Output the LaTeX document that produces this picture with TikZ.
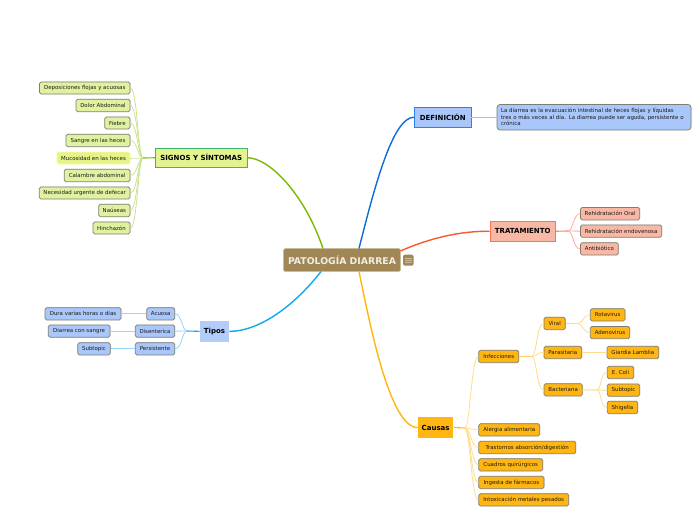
\documentclass[tikz,border=0pt]{standalone}
\usepackage{fontspec}
\setmainfont{DejaVu Sans}
\usetikzlibrary{shadows,calc}
\definecolor{cgreen}{HTML}{7FB800}\definecolor{lgreen}{HTML}{CAE38F}
\definecolor{cblue}{HTML}{0E6BDC}\definecolor{lblue}{HTML}{A0C4F5}
\definecolor{cred}{HTML}{F9592C}\definecolor{lred}{HTML}{FBAE97}
\definecolor{csky}{HTML}{0FA9EE}\definecolor{lsky}{HTML}{94D8F7}
\definecolor{cyel}{HTML}{FFB612}\definecolor{lyel}{HTML}{FFDB8A}
\definecolor{edgegray}{HTML}{7E7E70}
\definecolor{gfill}{HTML}{E0F2A0}\definecolor{bfill}{HTML}{A9C7FA}\definecolor{rfill}{HTML}{F9B8A5}
\definecolor{rootc}{HTML}{A08755}\definecolor{rootl}{HTML}{C9BC9A}
\definecolor{sedge}{HTML}{3DB56B}\definecolor{dedge}{HTML}{2F80E8}\definecolor{tedge}{HTML}{FA7650}
\tikzset{
 base/.style={inner sep=0pt,align=center,text=black},
 leaftext/.style={font=\fontsize{5.45}{6.6}\selectfont,text=black!90},
 leaf/.style={base,leaftext,rounded corners=1.6pt,draw=edgegray,line width=.7pt,
   drop shadow={opacity=.25,shadow xshift=.5pt,shadow yshift=.5pt}},
 gleaf/.style={leaf,fill=gfill},
 bleaf/.style={leaf,fill=bfill},
 rleaf/.style={leaf,fill=rfill},
 yleaf/.style={leaf,fill=cyel},
 topic/.style={base,font=\fontsize{7}{8}\selectfont\bfseries,line width=.9pt},
 rootbox/.style={base,rounded corners=1.5pt,fill=rootc,draw=rootl,line width=.6pt,text=rootl!25!white,font=\fontsize{9.3}{11}\selectfont\bfseries},
 stem/.style={line width=1.1pt},
 main/.style={line width=1.4pt},
 twig/.style={line width=.8pt},
}
\newcommand{\nb}[7]{%
 \pgfmathsetmacro{\nbcx}{(#2+#4)/2}\pgfmathsetmacro{\nbcy}{(#3+#5)/2}%
 \pgfmathsetmacro{\nbw}{#4-#2}\pgfmathsetmacro{\nbh}{#5-#3}%
 \node[#6,minimum width=\nbw pt,minimum height=\nbh pt] (#1) at (\nbcx,\nbcy) {#7};}
% branch from a fork to a child on its left / right
\newcommand{\brL}[3]{\draw[twig,#3] (#1) .. controls ([xshift=-5pt]#1) and ([xshift=7pt]#2.east) .. (#2.east);}
\newcommand{\brR}[3]{\draw[twig,#3] (#1) .. controls ([xshift=5pt]#1) and ([xshift=-7pt]#2.west) .. (#2.west);}
\begin{document}
\begin{tikzpicture}[x=1pt,y=-1pt]
\useasboundingbox (0,0) rectangle (697,520);
% root
\nb{root}{283.5}{248.5}{400.5}{271.5}{rootbox}{PATOLOGÍA DIARREA}
\nb{icon}{403}{254.7}{413.7}{265.7}{base,rounded corners=1.5pt,fill=rootc}{}
\foreach \yy in {258,260.3,262.6}{\draw[rootl,line width=.9pt] (405,\yy) -- (411.7,\yy);}
% topics
\nb{signos}{155.5}{148}{247}{167.5}{topic,fill=gfill!90!yellow,draw=sedge}{SIGNOS Y SÍNTOMAS}
\nb{defin}{414.5}{107.5}{471}{127}{topic,fill=bfill,draw=dedge}{DEFINICIÓN}
\nb{trat}{490}{221.5}{555.5}{241}{topic,fill=rfill,draw=tedge}{TRATAMIENTO}
\nb{tipos}{200}{321}{229}{341.7}{topic,fill=bfill!90!white}{Tipos}
\nb{causas}{418}{417.3}{453.3}{437.7}{topic,fill=cyel}{Causas}
% signs
\nb{s1}{39.5}{82}{130}{94}{gleaf}{Deposiciones flojas y acuosas}
\nb{s2}{76}{99.3}{130}{111.7}{gleaf}{Dolor Abdominal}
\nb{s3}{104.7}{117}{130}{129}{gleaf}{Fiebre}
\nb{s4}{66}{134.3}{130}{146.7}{gleaf}{Sangre en las heces}
\nb{s5}{57}{152}{130}{164}{base,leaftext,rounded corners=1.6pt,fill=gfill!85!yellow,draw=yellow!45,line width=.7pt}{Mucosidad en las heces}
\nb{s6}{64.3}{169.3}{130}{181.7}{gleaf}{Calambre abdominal}
\nb{s7}{39.3}{187}{130}{199}{gleaf}{Necesidad urgente de defecar}
\nb{s8}{98.7}{204.3}{130}{216.7}{gleaf}{Naúseas}
\nb{s9}{93}{222}{130}{234}{gleaf}{Hinchazón}
% definition note
\nb{note}{497}{104.5}{691}{130}{leaf,fill=bfill,rounded corners=3pt,align=left,text width=186pt}{La diarrea es la evacuación intestinal de heces flojas y líquidas\\tres o más veces al día. La diarrea puede ser aguda, persistente o\\crónica}
% treatment
\nb{t1}{580.5}{207.5}{639.7}{220}{rleaf}{Rehidratación Oral}
\nb{t2}{580.5}{225}{661.7}{237.3}{rleaf}{Rehidratación endovenosa}
\nb{t3}{580.5}{242.7}{618.3}{255}{rleaf}{Antibiótico}
% types
\nb{p1}{146.7}{307.7}{174.7}{320}{bleaf}{Acuosa}
\nb{p2}{135.3}{325}{174.7}{337.3}{bleaf}{Disenterica}
\nb{p3}{135.3}{342.7}{174.7}{355}{bleaf}{Persistente}
\nb{q1}{45}{307.7}{121}{320}{bleaf}{Dura varias horas o días}
\nb{q2}{48.3}{325}{110}{337.3}{bleaf}{Diarrea con sangre}
\nb{q3}{77.7}{342.7}{110.3}{355}{bleaf}{Subtopic}
% causes
\nb{c1}{478.7}{350.3}{518.7}{362.7}{yleaf}{Infecciones}
\nb{c2}{478.7}{423.7}{539.7}{436}{yleaf}{Alergia alimentaria}
\nb{c3}{478.7}{441.3}{575.7}{453.7}{yleaf}{Trastornos absorción/digestión}
\nb{c4}{478.7}{458.7}{542.7}{471}{yleaf}{Cuadros quirúrgicos}
\nb{c5}{478.7}{476.3}{544}{488.7}{yleaf}{Ingesta de fármacos}
\nb{c6}{478.7}{493.7}{568.7}{506}{yleaf}{Intoxicación metales pesados}
\nb{v1}{544}{317.3}{565.3}{329.7}{yleaf}{Viral}
\nb{v2}{544}{346.3}{581.7}{358.7}{yleaf}{Parasitaria}
\nb{v3}{544}{383.7}{582.3}{396}{yleaf}{Bacteriana}
\nb{w1}{590.3}{308.7}{625}{321}{yleaf}{Rotavirus}
\nb{w2}{590.3}{326.5}{629.7}{338.7}{yleaf}{Adenovirus}
\nb{w3}{607}{346.3}{658.7}{358.7}{yleaf}{Giardia Lamblia}
\nb{w4}{607.3}{366.3}{633.7}{378.7}{yleaf}{E. Coli}
\nb{w5}{607.3}{384}{639.7}{396.3}{yleaf}{Subtopic}
\nb{w6}{607.3}{401.3}{637.7}{413.7}{yleaf}{Shigella}
% attachment points and forks
\coordinate (rg) at (323,248.5);\coordinate (rb) at (359,248.5);\coordinate (rr) at (400.5,251);
\coordinate (rs) at (321,271.5);\coordinate (ry) at (359,271.5);
\coordinate (fs) at (143,158);\coordinate (ft) at (568,231);\coordinate (fp) at (187,331);
\coordinate (fc) at (465,428);\coordinate (fi) at (531.7,356.5);\coordinate (fv) at (578,323.5);
\coordinate (fb) at (596.7,390);
% main branches
\draw[main,cgreen] (rg) .. controls (305,195) and (270,158) .. (signos.east);
\draw[main,cblue] (rb) .. controls (375,185) and (393,117) .. (defin.west);
\draw[main,cred] (rr) .. controls (430,238) and (460,231) .. (trat.west);
\draw[main,csky] (rs) .. controls (295,305) and (260,331.3) .. (tipos.east);
\draw[main,cyel] (ry) .. controls (370,325) and (390,427.5) .. (causas.west);
% signs
\draw[stem,cgreen] (signos.west) -- (fs);
\foreach \n in {s1,s2,s3,s4,s5,s6,s7,s8,s9}{\brL{fs}{\n}{lgreen}}
% definition
\draw[twig,lblue] (defin.east) -- (note.west |- defin.east);
% treatment
\draw[stem,cred!75] (trat.east) -- (ft);
\foreach \n in {t1,t2,t3}{\brR{ft}{\n}{lred}}
% types
\draw[stem,csky] (tipos.west) -- (fp);
\foreach \n in {p1,p2,p3}{\brL{fp}{\n}{lsky}}
\draw[twig,lsky] (p1) -- (q1);\draw[twig,lsky] (p2) -- (q2);\draw[twig,lsky] (p3) -- (q3);
% causes
\draw[stem,cyel] (causas.east) -- (fc);
\foreach \n in {c1,c2,c3,c4,c5,c6}{\brR{fc}{\n}{lyel}}
\draw[stem,lyel!70!cyel] (c1.east) -- (fi);
\foreach \n in {v1,v2,v3}{\brR{fi}{\n}{lyel}}
\draw[stem,lyel] (v1.east) -- (fv);
\foreach \n in {w1,w2}{\brR{fv}{\n}{lyel}}
\draw[twig,lyel] (v2) -- (w3);
\draw[stem,lyel] (v3.east) -- (fb);
\foreach \n in {w4,w5,w6}{\brR{fb}{\n}{lyel}}
\end{tikzpicture}
\end{document}
